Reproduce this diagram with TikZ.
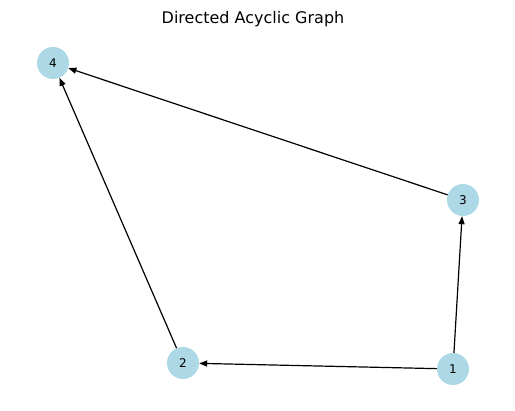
\documentclass[tikz,border=0pt]{standalone}
\usepackage{fontspec}
\setmainfont{DejaVu Sans}
\usetikzlibrary{arrows.meta}
\definecolor{dagnode}{RGB}{173,216,230}

\begin{document}
\begin{tikzpicture}[x=1pt,y=-1pt,
      vertex/.style={circle,fill=dagnode,minimum size=32pt,inner sep=0pt,font=\fontsize{12}{14}\selectfont},
      link/.style={->,line width=1.2pt},
      >={Triangle[length=8pt,width=6pt]}]
    \useasboundingbox (0,0) rectangle (515,411);
    \node[anchor=base,font=\fontsize{16}{19}\selectfont] (title) at (253,24) {Directed Acyclic Graph};
    \node[vertex] (n4) at (53,63) {4};
    \node[vertex] (n3) at (463,200) {3};
    \node[vertex] (n2) at (183,363) {2};
    \node[vertex] (n1) at (453,369) {1};
    \draw[link] (n1)--(n3); \draw[link] (n1)--(n2);
    \draw[link] (n3)--(n4); \draw[link] (n2)--(n4);
  \end{tikzpicture}
\end{document}
